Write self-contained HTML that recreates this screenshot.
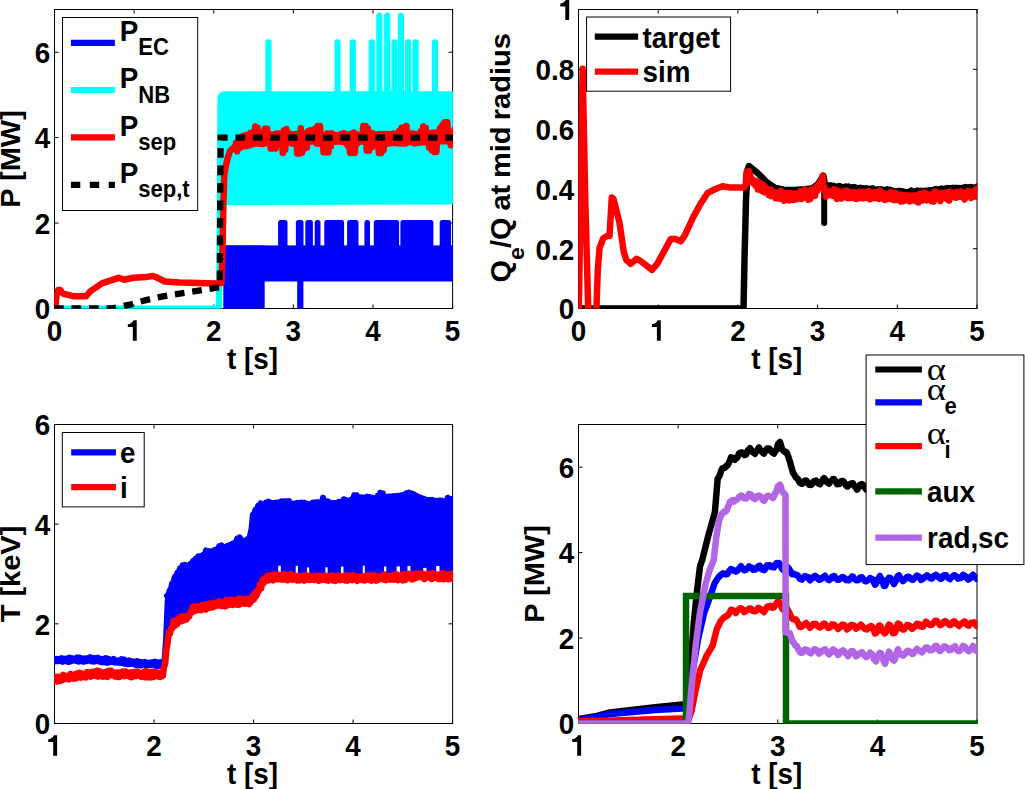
<!DOCTYPE html><html><head><meta charset="utf-8"><style>html,body{margin:0;padding:0;background:#fff;}svg{display:block}</style></head><body>
<svg width="1025" height="789" viewBox="0 0 1025 789">
<rect width="1025" height="789" fill="#fff"/>
<defs>
<clipPath id="cTL"><rect x="54.20" y="9.20" width="398.70" height="299.60"/></clipPath>
<clipPath id="cTR"><rect x="578.20" y="9.20" width="399.10" height="299.60"/></clipPath>
<clipPath id="cBL"><rect x="54.20" y="424.20" width="398.70" height="299.60"/></clipPath>
<clipPath id="cBR"><rect x="578.20" y="424.20" width="399.10" height="299.60"/></clipPath>
</defs>
<rect x="54.5" y="9.5" width="398.10" height="299.00" fill="none" stroke="#000" stroke-width="1"/>
<line x1="54.50" y1="308.5" x2="54.50" y2="304.5" stroke="#000" stroke-width="1"/>
<line x1="54.50" y1="9.5" x2="54.50" y2="13.5" stroke="#000" stroke-width="1"/>
<line x1="134.12" y1="308.5" x2="134.12" y2="304.5" stroke="#000" stroke-width="1"/>
<line x1="134.12" y1="9.5" x2="134.12" y2="13.5" stroke="#000" stroke-width="1"/>
<line x1="213.74" y1="308.5" x2="213.74" y2="304.5" stroke="#000" stroke-width="1"/>
<line x1="213.74" y1="9.5" x2="213.74" y2="13.5" stroke="#000" stroke-width="1"/>
<line x1="293.36" y1="308.5" x2="293.36" y2="304.5" stroke="#000" stroke-width="1"/>
<line x1="293.36" y1="9.5" x2="293.36" y2="13.5" stroke="#000" stroke-width="1"/>
<line x1="372.98" y1="308.5" x2="372.98" y2="304.5" stroke="#000" stroke-width="1"/>
<line x1="372.98" y1="9.5" x2="372.98" y2="13.5" stroke="#000" stroke-width="1"/>
<line x1="452.60" y1="308.5" x2="452.60" y2="304.5" stroke="#000" stroke-width="1"/>
<line x1="452.60" y1="9.5" x2="452.60" y2="13.5" stroke="#000" stroke-width="1"/>
<line x1="54.5" y1="308.50" x2="58.5" y2="308.50" stroke="#000" stroke-width="1"/>
<line x1="452.6" y1="308.50" x2="448.6" y2="308.50" stroke="#000" stroke-width="1"/>
<line x1="54.5" y1="223.07" x2="58.5" y2="223.07" stroke="#000" stroke-width="1"/>
<line x1="452.6" y1="223.07" x2="448.6" y2="223.07" stroke="#000" stroke-width="1"/>
<line x1="54.5" y1="137.64" x2="58.5" y2="137.64" stroke="#000" stroke-width="1"/>
<line x1="452.6" y1="137.64" x2="448.6" y2="137.64" stroke="#000" stroke-width="1"/>
<line x1="54.5" y1="52.21" x2="58.5" y2="52.21" stroke="#000" stroke-width="1"/>
<line x1="452.6" y1="52.21" x2="448.6" y2="52.21" stroke="#000" stroke-width="1"/>
<rect x="578.5" y="9.5" width="398.50" height="299.00" fill="none" stroke="#000" stroke-width="1"/>
<line x1="578.50" y1="308.5" x2="578.50" y2="304.5" stroke="#000" stroke-width="1"/>
<line x1="578.50" y1="9.5" x2="578.50" y2="13.5" stroke="#000" stroke-width="1"/>
<line x1="658.20" y1="308.5" x2="658.20" y2="304.5" stroke="#000" stroke-width="1"/>
<line x1="658.20" y1="9.5" x2="658.20" y2="13.5" stroke="#000" stroke-width="1"/>
<line x1="737.90" y1="308.5" x2="737.90" y2="304.5" stroke="#000" stroke-width="1"/>
<line x1="737.90" y1="9.5" x2="737.90" y2="13.5" stroke="#000" stroke-width="1"/>
<line x1="817.60" y1="308.5" x2="817.60" y2="304.5" stroke="#000" stroke-width="1"/>
<line x1="817.60" y1="9.5" x2="817.60" y2="13.5" stroke="#000" stroke-width="1"/>
<line x1="897.30" y1="308.5" x2="897.30" y2="304.5" stroke="#000" stroke-width="1"/>
<line x1="897.30" y1="9.5" x2="897.30" y2="13.5" stroke="#000" stroke-width="1"/>
<line x1="977.00" y1="308.5" x2="977.00" y2="304.5" stroke="#000" stroke-width="1"/>
<line x1="977.00" y1="9.5" x2="977.00" y2="13.5" stroke="#000" stroke-width="1"/>
<line x1="578.5" y1="308.50" x2="582.5" y2="308.50" stroke="#000" stroke-width="1"/>
<line x1="977.0" y1="308.50" x2="973.0" y2="308.50" stroke="#000" stroke-width="1"/>
<line x1="578.5" y1="248.70" x2="582.5" y2="248.70" stroke="#000" stroke-width="1"/>
<line x1="977.0" y1="248.70" x2="973.0" y2="248.70" stroke="#000" stroke-width="1"/>
<line x1="578.5" y1="188.90" x2="582.5" y2="188.90" stroke="#000" stroke-width="1"/>
<line x1="977.0" y1="188.90" x2="973.0" y2="188.90" stroke="#000" stroke-width="1"/>
<line x1="578.5" y1="129.10" x2="582.5" y2="129.10" stroke="#000" stroke-width="1"/>
<line x1="977.0" y1="129.10" x2="973.0" y2="129.10" stroke="#000" stroke-width="1"/>
<line x1="578.5" y1="69.30" x2="582.5" y2="69.30" stroke="#000" stroke-width="1"/>
<line x1="977.0" y1="69.30" x2="973.0" y2="69.30" stroke="#000" stroke-width="1"/>
<line x1="578.5" y1="9.50" x2="582.5" y2="9.50" stroke="#000" stroke-width="1"/>
<line x1="977.0" y1="9.50" x2="973.0" y2="9.50" stroke="#000" stroke-width="1"/>
<rect x="54.5" y="424.5" width="398.10" height="299.00" fill="none" stroke="#000" stroke-width="1"/>
<line x1="54.50" y1="723.5" x2="54.50" y2="719.5" stroke="#000" stroke-width="1"/>
<line x1="54.50" y1="424.5" x2="54.50" y2="428.5" stroke="#000" stroke-width="1"/>
<line x1="154.03" y1="723.5" x2="154.03" y2="719.5" stroke="#000" stroke-width="1"/>
<line x1="154.03" y1="424.5" x2="154.03" y2="428.5" stroke="#000" stroke-width="1"/>
<line x1="253.55" y1="723.5" x2="253.55" y2="719.5" stroke="#000" stroke-width="1"/>
<line x1="253.55" y1="424.5" x2="253.55" y2="428.5" stroke="#000" stroke-width="1"/>
<line x1="353.08" y1="723.5" x2="353.08" y2="719.5" stroke="#000" stroke-width="1"/>
<line x1="353.08" y1="424.5" x2="353.08" y2="428.5" stroke="#000" stroke-width="1"/>
<line x1="452.60" y1="723.5" x2="452.60" y2="719.5" stroke="#000" stroke-width="1"/>
<line x1="452.60" y1="424.5" x2="452.60" y2="428.5" stroke="#000" stroke-width="1"/>
<line x1="54.5" y1="723.50" x2="58.5" y2="723.50" stroke="#000" stroke-width="1"/>
<line x1="452.6" y1="723.50" x2="448.6" y2="723.50" stroke="#000" stroke-width="1"/>
<line x1="54.5" y1="623.83" x2="58.5" y2="623.83" stroke="#000" stroke-width="1"/>
<line x1="452.6" y1="623.83" x2="448.6" y2="623.83" stroke="#000" stroke-width="1"/>
<line x1="54.5" y1="524.17" x2="58.5" y2="524.17" stroke="#000" stroke-width="1"/>
<line x1="452.6" y1="524.17" x2="448.6" y2="524.17" stroke="#000" stroke-width="1"/>
<line x1="54.5" y1="424.50" x2="58.5" y2="424.50" stroke="#000" stroke-width="1"/>
<line x1="452.6" y1="424.50" x2="448.6" y2="424.50" stroke="#000" stroke-width="1"/>
<rect x="578.5" y="424.5" width="398.50" height="299.00" fill="none" stroke="#000" stroke-width="1"/>
<line x1="578.50" y1="723.5" x2="578.50" y2="719.5" stroke="#000" stroke-width="1"/>
<line x1="578.50" y1="424.5" x2="578.50" y2="428.5" stroke="#000" stroke-width="1"/>
<line x1="678.12" y1="723.5" x2="678.12" y2="719.5" stroke="#000" stroke-width="1"/>
<line x1="678.12" y1="424.5" x2="678.12" y2="428.5" stroke="#000" stroke-width="1"/>
<line x1="777.75" y1="723.5" x2="777.75" y2="719.5" stroke="#000" stroke-width="1"/>
<line x1="777.75" y1="424.5" x2="777.75" y2="428.5" stroke="#000" stroke-width="1"/>
<line x1="877.38" y1="723.5" x2="877.38" y2="719.5" stroke="#000" stroke-width="1"/>
<line x1="877.38" y1="424.5" x2="877.38" y2="428.5" stroke="#000" stroke-width="1"/>
<line x1="977.00" y1="723.5" x2="977.00" y2="719.5" stroke="#000" stroke-width="1"/>
<line x1="977.00" y1="424.5" x2="977.00" y2="428.5" stroke="#000" stroke-width="1"/>
<line x1="578.5" y1="723.50" x2="582.5" y2="723.50" stroke="#000" stroke-width="1"/>
<line x1="977.0" y1="723.50" x2="973.0" y2="723.50" stroke="#000" stroke-width="1"/>
<line x1="578.5" y1="638.07" x2="582.5" y2="638.07" stroke="#000" stroke-width="1"/>
<line x1="977.0" y1="638.07" x2="973.0" y2="638.07" stroke="#000" stroke-width="1"/>
<line x1="578.5" y1="552.64" x2="582.5" y2="552.64" stroke="#000" stroke-width="1"/>
<line x1="977.0" y1="552.64" x2="973.0" y2="552.64" stroke="#000" stroke-width="1"/>
<line x1="578.5" y1="467.21" x2="582.5" y2="467.21" stroke="#000" stroke-width="1"/>
<line x1="977.0" y1="467.21" x2="973.0" y2="467.21" stroke="#000" stroke-width="1"/>
<g clip-path="url(#cTL)">
<rect x="223.3" y="245.4" width="230" height="36.1" fill="#0000ff"/>
<rect x="223.3" y="245.4" width="41.4" height="64" fill="#0000ff"/>
<rect x="297.2" y="245.4" width="6.2" height="64" rx="2" fill="#0000ff"/>
<rect x="278.1" y="220.1" width="9.4" height="30" rx="2.5" fill="#0000ff"/>
<rect x="295.9" y="220.1" width="7.6" height="30" rx="2.5" fill="#0000ff"/>
<rect x="305.3" y="220.1" width="7.6" height="30" rx="2.5" fill="#0000ff"/>
<rect x="314.7" y="220.1" width="5.8" height="30" rx="2.5" fill="#0000ff"/>
<rect x="324.3" y="220.1" width="19.8" height="30" rx="2.5" fill="#0000ff"/>
<rect x="347.1" y="220.1" width="11.4" height="30" rx="2.5" fill="#0000ff"/>
<rect x="364.4" y="220.1" width="5.6" height="30" rx="2.5" fill="#0000ff"/>
<rect x="373.8" y="220.1" width="25.3" height="30" rx="2.5" fill="#0000ff"/>
<rect x="400.4" y="220.1" width="33.0" height="30" rx="2.5" fill="#0000ff"/>
<rect x="439.7" y="220.1" width="11.4" height="30" rx="2.5" fill="#0000ff"/>
<polyline points="40.0,308.5 219.0,308.5 220.5,97.0" fill="none" stroke="#00ffff" stroke-width="6" stroke-linejoin="round" stroke-linecap="round"/>
<path d="M217.8,205 L217.8,99 Q218.5,91.3 224,91.3 L455,91.3 L455,204.6 Z" fill="#00ffff"/>
<rect x="265.4" y="39.3" width="6.2" height="60" rx="3" fill="#00ffff"/>
<rect x="334.4" y="39.3" width="6.2" height="60" rx="3" fill="#00ffff"/>
<rect x="349.7" y="39.3" width="6.2" height="60" rx="3" fill="#00ffff"/>
<rect x="368.8" y="39.3" width="6.2" height="60" rx="3" fill="#00ffff"/>
<rect x="391.4" y="39.3" width="6.2" height="60" rx="3" fill="#00ffff"/>
<rect x="405.0" y="39.3" width="6.2" height="60" rx="3" fill="#00ffff"/>
<rect x="412.5" y="39.3" width="6.2" height="60" rx="3" fill="#00ffff"/>
<rect x="431.9" y="39.3" width="6.2" height="60" rx="3" fill="#00ffff"/>
<rect x="376.3" y="12.7" width="6.2" height="85" rx="3" fill="#00ffff"/>
<rect x="384.1" y="12.7" width="6.2" height="85" rx="3" fill="#00ffff"/>
<rect x="397.8" y="12.7" width="6.2" height="85" rx="3" fill="#00ffff"/>
<polyline points="55.0,312.0 56.5,295.0 58.3,289.9 60.2,289.9 63.0,293.6 74.1,296.3 86.1,296.3 89.9,291.7 101.9,283.4 118.6,277.8 124.1,279.7 133.4,277.8 146.4,276.9 152.9,276.0 157.5,277.8 164.9,281.5 179.7,282.4 216.8,283.4 221.5,283.0 222.5,250.0 223.5,200.0 224.3,175.0 226.0,165.0 228.0,157.0 230.0,151.0 235.0,146.5 237.0,146.0" fill="none" stroke="#ff0000" stroke-width="6.5" stroke-linejoin="round" stroke-linecap="round"/>
<polyline points="236.0,143.0 237.2,151.3 238.4,141.6 239.6,148.1 240.8,137.6 242.0,146.7 243.2,136.0 244.4,146.2 245.6,135.3 246.8,145.9 248.0,134.4 249.2,145.5 250.4,133.0 251.6,144.5 252.8,132.6 254.0,144.0 255.2,126.5 256.4,143.6 257.6,127.8 258.8,143.5 260.0,133.7 261.2,144.0 262.4,133.1 263.6,144.0 264.8,128.8 266.0,143.2 267.2,128.7 268.4,143.1 269.6,135.2 270.8,148.6 272.0,134.4 273.2,148.5 274.4,134.3 275.6,148.5 276.8,133.6 278.0,142.4 279.2,133.5 280.4,144.4 281.6,133.5 282.8,153.1 284.0,130.2 285.2,149.8 286.4,129.1 287.6,142.8 288.8,133.1 290.0,142.7 291.2,134.3 292.4,143.5 293.6,134.3 294.8,143.8 296.0,134.0 297.2,153.6 298.4,133.9 299.6,153.6 300.8,128.3 302.0,152.7 303.2,133.3 304.4,148.8 305.6,133.4 306.8,147.6 308.0,131.3 309.2,141.5 310.4,130.2 311.6,141.5 312.8,130.3 314.0,141.3 315.2,128.6 316.4,143.5 317.6,126.0 318.8,143.8 320.0,126.0 321.2,143.8 322.4,134.9 323.6,152.3 324.8,135.0 326.0,152.3 327.2,133.5 328.4,152.4 329.6,133.4 330.8,147.0 332.0,133.5 333.2,141.6 334.4,134.9 335.6,141.6 336.8,135.3 338.0,141.6 339.2,135.3 340.4,141.6 341.6,133.7 342.8,142.0 344.0,133.3 345.2,142.5 346.4,134.5 347.6,145.3 348.8,134.6 350.0,152.9 351.2,133.7 352.4,152.9 353.6,132.6 354.8,152.9 356.0,133.8 357.2,143.6 358.4,135.1 359.6,141.9 360.8,135.1 362.0,141.6 363.2,125.9 364.4,141.5 365.6,125.9 366.8,150.7 368.0,128.4 369.2,150.7 370.4,132.9 371.6,147.3 372.8,133.2 374.0,143.5 375.2,134.5 376.4,145.4 377.6,134.5 378.8,153.0 380.0,134.0 381.2,153.0 382.4,134.0 383.6,149.9 384.8,134.1 386.0,143.9 387.2,134.1 388.4,143.8 389.6,134.1 390.8,143.0 392.0,133.9 393.2,143.0 394.4,133.5 395.6,143.1 396.8,133.5 398.0,143.3 399.2,131.0 400.4,143.4 401.6,127.7 402.8,143.6 404.0,127.3 405.2,143.6 406.4,126.1 407.6,142.7 408.8,133.4 410.0,141.9 411.2,133.4 412.4,142.3 413.6,133.4 414.8,143.4 416.0,133.9 417.2,143.1 418.4,133.9 419.6,142.5 420.8,131.2 422.0,142.4 423.2,126.5 424.4,142.3 425.6,127.8 426.8,142.3 428.0,133.0 429.2,147.4 430.4,133.0 431.6,150.3 432.8,132.8 434.0,151.9 435.2,132.6 436.4,151.9 437.6,132.6 438.8,141.2 440.0,128.2 441.2,141.2 442.4,125.0 443.6,141.2 444.8,122.3 446.0,141.3 447.2,122.2 448.4,141.3 449.6,132.2 450.8,145.3 452.0,133.6 453.2,145.1 454.4,129.5 455.6,142.9" fill="none" stroke="#ff0000" stroke-width="6.5" stroke-linejoin="round" stroke-linecap="round"/>
<polyline points="54.0,308.5 111.0,308.5 129.7,304.7 142.7,301.0 157.5,297.3 179.7,293.6 203.8,289.9 219.8,287.3 220.2,200.0 220.6,137.6 455.0,137.6" fill="none" stroke="#000000" stroke-width="6.3" stroke-linejoin="miter" stroke-linecap="butt" stroke-dasharray="9.7 7.8"/>
</g>
<g clip-path="url(#cTR)">
<polyline points="570.0,308.5 743.5,308.5 744.5,260.0 746.0,200.0 747.5,170.0 749.0,166.0 757.6,173.0 766.3,181.8 775.1,188.0 783.9,189.7 794.4,190.0 804.1,189.3 812.0,188.5 818.0,184.0 823.4,175.7 825.0,186.0 826.0,190.0" fill="none" stroke="#000000" stroke-width="6.5" stroke-linejoin="round" stroke-linecap="round"/>
<polyline points="824.2,180.0 824.2,223.0" fill="none" stroke="#000000" stroke-width="6" stroke-linejoin="round" stroke-linecap="round"/>
<polyline points="826.0,187.6 827.5,185.6 829.0,187.9 830.5,185.8 832.0,188.5 833.5,186.3 835.0,188.7 836.5,187.0 838.0,189.2 839.5,186.3 841.0,188.0 842.5,187.4 844.0,188.5 845.5,187.0 847.0,189.7 848.5,186.9 850.0,189.6 851.5,187.7 853.0,190.3 854.5,187.3 856.0,189.4 857.5,188.4 859.0,189.8 860.5,188.2 862.0,190.7 863.5,188.7 865.0,190.4 866.5,188.7 868.0,190.9 869.5,189.1 871.0,190.7 872.5,188.6 874.0,190.9 875.5,189.9 877.0,191.0 878.5,189.6 880.0,192.1 881.5,189.6 883.0,191.9 884.5,190.4 886.0,192.7 887.5,189.7 889.0,192.4 890.5,190.3 892.0,193.5 893.5,191.2 895.0,192.8 896.5,191.7 898.0,193.4 899.5,191.2 901.0,193.5 902.5,191.6 904.0,194.4 905.5,192.4 907.0,194.5 908.5,192.3 910.0,194.5 911.5,191.0 913.0,193.8 914.5,192.0 916.0,194.1 917.5,190.9 919.0,193.7 920.5,191.3 922.0,193.3 923.5,191.2 925.0,193.3 926.5,190.9 928.0,192.2 929.5,190.7 931.0,191.7 932.5,190.4 934.0,191.6 935.5,189.4 937.0,192.2 938.5,189.7 940.0,191.1 941.5,189.0 943.0,192.3 944.5,189.2 946.0,191.8 947.5,188.5 949.0,191.3 950.5,188.4 952.0,191.3 953.5,188.2 955.0,191.1 956.5,188.1 958.0,191.1 959.5,188.3 961.0,190.3 962.5,188.1 964.0,190.5 965.5,187.5 967.0,189.9 968.5,187.7 970.0,190.4 971.5,187.3 973.0,189.8 974.5,187.9 976.0,189.5 977.5,186.8 979.0,188.8" fill="none" stroke="#000000" stroke-width="7" stroke-linejoin="round" stroke-linecap="round"/>
<polyline points="578.5,330.0 580.5,200.0 582.6,68.7 585.3,200.0 588.5,320.0" fill="none" stroke="#ff0000" stroke-width="6.5" stroke-linejoin="round" stroke-linecap="round"/>
<polyline points="596.0,330.0 596.7,300.0 597.8,270.0 599.5,248.0 603.3,238.2 607.5,235.7 609.5,236.0 611.8,197.5 613.5,199.0 619.5,222.8 623.8,251.9 626.4,260.0 630.7,263.9 636.6,258.8 640.9,261.3 652.0,269.9 657.2,263.9 670.7,239.0 675.6,239.0 680.6,241.4 684.7,235.7 693.0,217.5 701.2,202.7 707.8,192.8 714.4,189.5 722.6,186.2 730.8,187.6 744.0,187.6 745.7,185.0 746.5,172.0 749.0,171.0" fill="none" stroke="#ff0000" stroke-width="6.5" stroke-linejoin="round" stroke-linecap="round"/>
<polyline points="749.0,179.5 750.1,174.5 751.2,181.5 752.3,179.0 753.4,183.6 754.5,180.5 755.6,185.8 756.7,181.1 757.8,189.4 758.9,182.1 760.0,189.6 761.1,183.7 762.2,190.9 763.3,184.8 764.4,192.2 765.5,187.1 766.6,192.7 767.7,189.2 768.8,194.9 769.9,189.2 771.0,196.1 772.1,190.5 773.2,196.1 774.3,192.2 775.4,198.1 776.5,193.2 777.6,198.4 778.7,193.9 779.8,198.4 780.9,190.9 782.0,198.7 783.1,192.8 784.2,200.8 785.3,193.2 786.4,198.5 787.5,193.2 788.6,200.2 789.7,193.4 790.8,200.1 791.9,193.3 793.0,200.1 794.1,193.9 795.2,199.7 796.3,193.6 797.4,198.8 798.5,193.5 799.6,198.5 800.7,191.1 801.8,198.9 802.9,191.0 804.0,197.4 805.1,189.5 806.2,197.5 807.3,192.2 808.4,199.8 809.5,191.2 810.6,198.7 811.7,189.5 812.8,195.0 813.9,189.4 815.0,195.8 816.1,186.7 817.2,191.3 818.3,184.5 819.4,187.2 820.5,181.0 821.6,183.7 822.7,175.8 823.8,189.4 824.9,188.1 826.0,196.5 827.1,190.9 828.2,195.2 829.3,191.3 830.4,195.0 831.5,191.3 832.6,195.8 833.7,189.3 834.8,196.2 835.9,190.0 837.0,198.9 838.1,190.6 839.2,197.6 840.3,192.3 841.4,198.6 842.5,192.3 843.6,196.6 844.7,190.9 845.8,197.5 846.9,190.7 848.0,198.1 849.1,191.7 850.2,198.0 851.3,192.8 852.4,197.4 853.5,192.0 854.6,198.5 855.7,193.1 856.8,198.9 857.9,193.2 859.0,198.4 860.1,191.6 861.2,198.0 862.3,192.0 863.4,198.4 864.5,193.0 865.6,197.9 866.7,192.1 867.8,197.0 868.9,191.0 870.0,199.2 871.1,192.2 872.2,198.2 873.3,192.5 874.4,197.9 875.5,192.3 876.6,197.9 877.7,193.4 878.8,198.9 879.9,190.6 881.0,198.0 882.1,194.2 883.2,199.1 884.3,193.2 885.4,199.9 886.5,194.3 887.6,198.4 888.7,195.1 889.8,198.9 890.9,192.1 892.0,199.3 893.1,194.4 894.2,200.1 895.3,192.6 896.4,199.9 897.5,196.1 898.6,200.3 899.7,194.7 900.8,201.6 901.9,194.7 903.0,201.2 904.1,195.2 905.2,200.5 906.3,195.3 907.4,200.1 908.5,195.5 909.6,201.5 910.7,195.8 911.8,200.7 912.9,195.5 914.0,200.4 915.1,195.5 916.2,201.3 917.3,195.2 918.4,202.5 919.5,194.0 920.6,201.1 921.7,194.8 922.8,200.4 923.9,192.6 925.0,199.2 926.1,193.1 927.2,200.4 928.3,194.7 929.4,198.3 930.5,194.7 931.6,201.2 932.7,194.4 933.8,201.6 934.9,191.6 936.0,199.5 937.1,192.8 938.2,199.2 939.3,194.0 940.4,201.0 941.5,193.0 942.6,197.6 943.7,193.1 944.8,197.6 945.9,192.7 947.0,199.0 948.1,192.2 949.2,200.6 950.3,191.8 951.4,197.3 952.5,193.1 953.6,196.8 954.7,193.3 955.8,197.8 956.9,191.8 958.0,197.1 959.1,193.3 960.2,196.5 961.3,191.4 962.4,197.2 963.5,192.8 964.6,199.6 965.7,192.6 966.8,196.0 967.9,191.1 969.0,196.1 970.1,191.5 971.2,197.9 972.3,191.3 973.4,196.7 974.5,190.6 975.6,196.4 976.7,188.4 977.8,196.5 978.9,191.2 980.0,197.4" fill="none" stroke="#ff0000" stroke-width="6.5" stroke-linejoin="round" stroke-linecap="round"/>
</g>
<g clip-path="url(#cBL)">
<polyline points="50.0,662.0 51.3,659.0 52.6,662.1 53.9,658.9 55.2,661.2 56.5,659.1 57.8,660.8 59.1,659.3 60.4,660.7 61.7,658.3 63.0,661.6 64.3,659.0 65.6,660.7 66.9,658.8 68.2,661.8 69.5,657.8 70.8,661.3 72.1,658.5 73.4,660.3 74.7,658.8 76.0,660.5 77.3,657.6 78.6,661.4 79.9,657.8 81.2,660.8 82.5,658.7 83.8,661.6 85.1,658.5 86.4,660.8 87.7,658.5 89.0,660.4 90.3,657.5 91.6,661.1 92.9,658.0 94.2,661.4 95.5,658.3 96.8,660.7 98.1,657.9 99.4,661.5 100.7,659.4 102.0,662.0 103.3,659.1 104.6,662.0 105.9,658.3 107.2,662.7 108.5,659.1 109.8,662.1 111.1,659.9 112.4,661.7 113.7,659.2 115.0,662.4 116.3,660.6 117.6,662.3 118.9,660.6 120.2,662.6 121.5,659.4 122.8,663.0 124.1,659.7 125.4,663.7 126.7,661.2 128.0,664.0 129.3,660.7 130.6,663.8 131.9,661.4 133.2,663.5 134.5,662.1 135.8,664.9 137.1,661.3 138.4,664.9 139.7,662.1 141.0,665.3 142.3,662.5 143.6,664.0 144.9,662.2 146.2,665.5 147.5,662.9 148.8,664.8 150.1,663.0 151.4,664.8 152.7,662.3 154.0,664.6 155.3,662.0 156.6,665.8 157.9,662.7 159.2,665.8 160.5,662.3 161.8,665.7" fill="none" stroke="#0000ff" stroke-width="6.5" stroke-linejoin="round" stroke-linecap="round"/>
<path d="M161.4,664.0 L161.6,659.0 L163.1,639.0 L164.7,600.0 L165.6,598.0 L173.9,577.5 L179.5,566.5 L187.9,565.0 L199.0,555.5 L206.0,550.5 L215.7,548.5 L224.1,545.0 L232.5,541.5 L239.4,537.5 L245.0,538.5 L249.2,536.0 L251.3,527.5 L252.7,512.0 L257.6,505.0 L264.5,501.0 L282.9,501.0 L304.4,502.0 L325.9,501.0 L347.3,500.0 L364.5,496.0 L379.5,495.8 L401.0,493.0 L409.6,491.0 L422.4,496.8 L443.9,499.0 L460.0,500.0 L460.0,575.0 L265.0,575.0 L263.0,582.0 L257.0,593.0 L250.0,601.0 L239.3,601.5 L215.2,604.8 L199.3,607.8 L192.7,610.0 L186.2,619.0 L179.6,619.3 L173.0,624.3 L168.0,637.5 L166.0,655.0 L164.0,670.0 Z" fill="#0000ff"/>
<polyline points="167.0,595.8 168.3,595.3 169.6,590.6 170.9,588.9 172.2,583.3 173.5,582.5 174.8,576.8 176.1,577.2 177.4,572.5 178.7,572.1 180.0,568.3 181.3,570.2 182.6,565.4 183.9,569.7 185.2,564.8 186.5,569.2 187.8,566.2 189.1,568.0 190.4,563.7 191.7,565.7 193.0,561.1 194.3,563.5 195.6,558.9 196.9,561.3 198.2,556.3 199.5,559.1 200.8,556.0 202.1,557.3 203.4,554.6 204.7,555.4 206.0,550.4 207.3,554.2 208.6,551.1 209.9,553.7 211.2,551.3 212.5,553.2 213.8,550.3 215.1,552.6 216.4,549.3 217.7,551.7 219.0,546.4 220.3,550.6 221.6,545.4 222.9,549.5 224.2,547.1 225.5,548.4 226.8,546.1 228.1,547.3 229.4,545.1 230.7,546.2 232.0,544.0 233.3,545.0 234.6,542.7 235.9,543.5 237.2,538.6 238.5,542.0 239.8,537.4 241.1,541.8 242.4,540.6 243.7,542.3 245.0,540.7 246.3,541.7 247.6,539.2 248.9,540.2 250.2,534.8 251.5,529.3 252.8,514.8 254.1,514.0 255.4,509.8 256.7,510.3 258.0,505.9 259.3,508.0 260.6,503.2 261.9,506.5 263.2,504.7 264.5,505.0 265.8,502.6 267.1,505.0 268.4,501.6 269.7,505.0 271.0,502.6 272.3,505.0 273.6,503.1 274.9,505.0 276.2,502.7 277.5,505.0 278.8,502.5 280.1,505.0 281.4,501.4 282.7,505.0 284.0,501.4 285.3,505.1 286.6,501.1 287.9,505.2 289.2,501.2 290.5,505.4 291.8,503.6 293.1,505.5 294.4,503.7 295.7,505.6 297.0,502.9 298.3,505.7 299.6,502.9 300.9,505.8 302.2,502.7 303.5,506.0 304.8,502.7 306.1,505.9 307.4,503.7 308.7,505.8 310.0,504.5 311.3,505.7 312.6,502.7 313.9,505.6 315.2,502.3 316.5,505.4 317.8,502.2 319.1,505.3 320.4,502.1 321.7,505.2 323.0,497.6 324.3,505.1 325.6,501.1 326.9,505.0 328.2,501.4 329.5,504.8 330.8,503.0 332.1,504.7 333.4,503.3 334.7,504.6 336.0,503.2 337.3,504.5 338.6,501.9 339.9,504.3 341.2,501.7 342.5,504.2 343.8,499.2 345.1,504.1 346.4,500.0 347.7,503.9 349.0,500.9 350.3,503.3 351.6,499.4 352.9,502.7 354.2,495.1 355.5,502.1 356.8,495.2 358.1,501.5 359.4,497.4 360.7,500.9 362.0,497.3 363.3,500.3 364.6,497.5 365.9,500.0 367.2,496.7 368.5,499.9 369.8,497.1 371.1,499.9 372.4,497.7 373.7,499.9 375.0,498.1 376.3,499.8 377.6,495.9 378.9,499.8 380.2,492.8 381.5,499.5 382.8,493.3 384.1,499.2 385.4,497.1 386.7,498.9 388.0,496.7 389.3,498.5 390.6,496.6 391.9,498.2 393.2,496.2 394.5,497.8 395.8,496.1 397.1,497.5 398.4,495.8 399.7,497.2 401.0,495.5 402.3,496.7 403.6,494.9 404.9,496.1 406.2,493.5 407.5,495.5 408.8,492.7 410.1,495.2 411.4,493.3 412.7,496.4 414.0,494.4 415.3,497.6 416.6,495.9 417.9,498.8 419.2,497.2 420.5,499.9 421.8,498.2 423.1,500.9 424.4,499.0 425.7,501.1 427.0,500.1 428.3,501.4 429.6,500.2 430.9,501.7 432.2,499.9 433.5,501.9 434.8,500.6 436.1,502.2 437.4,501.0 438.7,502.5 440.0,500.4 441.3,502.7 442.6,500.8 443.9,503.0 445.2,501.2 446.5,503.2 447.8,497.7 449.1,503.3 450.4,498.8 451.7,503.5 453.0,499.0 454.3,503.6 455.6,501.0" fill="none" stroke="#0000ff" stroke-width="6" stroke-linejoin="round" stroke-linecap="round"/>
<rect x="278.2" y="565.8" width="2.6" height="12" fill="#fff"/>
<rect x="295.7" y="565.8" width="2.2" height="12" fill="#fff"/>
<rect x="307.0" y="567.4" width="2.2" height="12" fill="#fff"/>
<rect x="325.4" y="567.2" width="2.2" height="12" fill="#fff"/>
<rect x="340.9" y="566.6" width="2.6" height="12" fill="#fff"/>
<rect x="362.8" y="565.7" width="2.0" height="12" fill="#fff"/>
<rect x="384.0" y="566.5" width="2.3" height="12" fill="#fff"/>
<rect x="396.6" y="566.4" width="3.4" height="12" fill="#fff"/>
<rect x="407.5" y="566.0" width="2.9" height="12" fill="#fff"/>
<rect x="423.2" y="567.9" width="3.3" height="12" fill="#fff"/>
<rect x="436.2" y="566.0" width="3.3" height="12" fill="#fff"/>
<rect x="458.0" y="565.6" width="3.1" height="12" fill="#fff"/>
<polyline points="50.0,682.8 51.2,678.2 52.4,682.0 53.6,676.4 54.8,681.0 56.0,676.9 57.2,681.5 58.4,676.7 59.6,681.0 60.8,677.0 62.0,680.3 63.2,674.9 64.4,679.1 65.6,675.8 66.8,678.8 68.0,676.2 69.2,679.3 70.4,674.0 71.6,678.2 72.8,675.2 74.0,678.7 75.2,674.2 76.4,678.2 77.6,673.2 78.8,677.0 80.0,672.9 81.2,677.6 82.4,673.9 83.6,677.0 84.8,673.8 86.0,677.4 87.2,672.1 88.4,675.9 89.6,672.6 90.8,676.6 92.0,672.0 93.2,675.7 94.4,671.9 95.6,675.9 96.8,670.7 98.0,676.6 99.2,671.1 100.4,676.2 101.6,672.4 102.8,676.6 104.0,672.7 105.2,676.2 106.4,671.8 107.6,676.9 108.8,670.9 110.0,675.1 111.2,670.8 112.4,675.3 113.6,672.4 114.8,676.3 116.0,672.5 117.2,676.9 118.4,672.6 119.6,677.0 120.8,672.6 122.0,675.6 123.2,671.5 124.4,676.1 125.6,671.3 126.8,675.7 128.0,672.5 129.2,676.3 130.4,672.5 131.6,677.3 132.8,672.1 134.0,676.3 135.2,672.1 136.4,675.9 137.6,671.6 138.8,675.4 140.0,673.1 141.2,676.6 142.4,673.1 143.6,676.8 144.8,671.4 146.0,677.4 147.2,671.4 148.4,677.3 149.6,673.2 150.8,677.3 152.0,671.9 153.2,677.1 154.4,671.4 155.6,675.7 156.8,672.4 158.0,676.4 159.2,672.9 160.4,677.0 161.6,672.7 162.8,675.9 164.0,666.9 165.2,663.2 166.4,649.4 167.6,643.0 168.8,632.4 170.0,633.6 171.2,627.8 172.4,627.9 173.6,620.7 174.8,625.9 176.0,620.7 177.2,624.1 178.4,618.3 179.6,621.4 180.8,616.6 182.0,621.1 183.2,616.2 184.4,620.2 185.6,617.3 186.8,619.3 188.0,615.3 189.2,616.4 190.4,611.9 191.6,612.6 192.8,606.9 194.0,611.3 195.2,606.2 196.4,610.3 197.6,606.8 198.8,609.9 200.0,606.2 201.2,610.1 202.4,605.1 203.6,608.2 204.8,604.4 206.0,609.6 207.2,604.2 208.4,608.0 209.6,603.5 210.8,607.7 212.0,603.8 213.2,607.1 214.4,603.1 215.6,606.1 216.8,602.5 218.0,605.5 219.2,601.3 220.4,605.7 221.6,602.0 222.8,606.0 224.0,602.4 225.2,606.4 226.4,600.1 227.6,605.3 228.8,600.8 230.0,604.4 231.2,599.6 232.4,605.0 233.6,601.0 234.8,604.3 236.0,600.2 237.2,604.6 238.4,598.7 239.6,604.6 240.8,598.7 242.0,603.3 243.2,599.0 244.4,603.8 245.6,598.7 246.8,603.4 248.0,600.0 249.2,604.2 250.4,598.3 251.6,601.4 252.8,595.6 254.0,599.4 255.2,592.7 256.4,595.9 257.6,590.1 258.8,591.3 260.0,584.4 261.2,588.2 262.4,579.9 263.6,583.1 264.8,578.4 266.0,580.3 267.2,575.6 268.4,580.5 269.6,575.6 270.8,578.5 272.0,575.0 273.2,580.4 274.4,574.4 275.6,578.4 276.8,575.9 278.0,579.1 279.2,574.9 280.4,579.1 281.6,575.2 282.8,579.8 284.0,574.1 285.2,578.5 286.4,575.6 287.6,580.3 288.8,574.8 290.0,578.4 291.2,574.1 292.4,579.8 293.6,575.3 294.8,578.4 296.0,575.8 297.2,580.5 298.4,576.2 299.6,580.4 300.8,576.2 302.0,579.4 303.2,575.8 304.4,580.6 305.6,574.8 306.8,578.8 308.0,575.8 309.2,580.0 310.4,576.2 311.6,579.7 312.8,576.3 314.0,580.0 315.2,575.9 316.4,579.9 317.6,575.7 318.8,580.8 320.0,576.3 321.2,579.9 322.4,576.3 323.6,579.6 324.8,575.7 326.0,580.2 327.2,576.2 328.4,580.6 329.6,576.6 330.8,579.6 332.0,575.6 333.2,580.4 334.4,576.7 335.6,580.9 336.8,576.2 338.0,578.9 339.2,575.6 340.4,580.2 341.6,576.0 342.8,579.6 344.0,576.6 345.2,580.3 346.4,575.3 347.6,580.7 348.8,575.6 350.0,579.5 351.2,575.5 352.4,580.2 353.6,575.3 354.8,579.1 356.0,576.8 357.2,580.9 358.4,576.5 359.6,579.1 360.8,576.6 362.0,579.8 363.2,576.2 364.4,580.5 365.6,576.7 366.8,579.5 368.0,575.4 369.2,580.0 370.4,576.2 371.6,580.7 372.8,575.1 374.0,579.3 375.2,575.7 376.4,580.7 377.6,576.6 378.8,579.6 380.0,576.5 381.2,578.7 382.4,575.6 383.6,579.4 384.8,574.5 386.0,580.1 387.2,575.7 388.4,579.4 389.6,576.2 390.8,579.5 392.0,576.2 393.2,579.4 394.4,574.5 395.6,579.4 396.8,574.4 398.0,580.2 399.2,575.4 400.4,579.0 401.6,574.9 402.8,580.4 404.0,574.1 405.2,580.0 406.4,574.8 407.6,578.3 408.8,573.9 410.0,578.1 411.2,574.5 412.4,579.5 413.6,575.1 414.8,578.5 416.0,573.4 417.2,577.5 418.4,574.2 419.6,577.1 420.8,573.7 422.0,577.3 423.2,573.9 424.4,579.0 425.6,575.0 426.8,577.5 428.0,574.2 429.2,577.5 430.4,573.6 431.6,579.0 432.8,573.1 434.0,577.6 435.2,574.8 436.4,577.9 437.6,574.5 438.8,579.1 440.0,575.2 441.2,578.8 442.4,573.3 443.6,579.2 444.8,573.8 446.0,578.1 447.2,574.4 448.4,579.3 449.6,574.9 450.8,578.7 452.0,573.6 453.2,578.1 454.4,573.3 455.6,579.6 456.8,574.0 458.0,577.6 459.2,573.9" fill="none" stroke="#ff0000" stroke-width="6.5" stroke-linejoin="round" stroke-linecap="round"/>
</g>
<g clip-path="url(#cBR)">
<polyline points="570.0,720.0 578.7,719.0 596.9,715.9 610.1,712.4 655.0,707.3 682.5,704.6 687.5,704.0 690.7,664.5 693.8,622.7 697.0,591.4 700.0,566.3 702.2,560.0 707.9,537.2 714.9,512.1 717.7,478.6 719.0,476.9 720.0,474.7 721.0,471.3 722.0,468.9 723.0,467.9 724.0,467.9 725.0,467.7 726.0,465.9 727.0,465.9 728.0,464.5 729.0,462.3 730.0,460.6 731.0,457.3 732.0,457.6 733.0,458.3 734.0,458.9 735.0,459.7 736.0,457.6 737.0,457.7 738.0,456.1 739.0,453.3 740.0,453.2 741.0,452.4 742.0,452.5 743.0,453.2 744.0,454.9 745.0,455.0 746.0,454.6 747.0,452.3 748.0,450.3 749.0,450.1 750.0,448.2 751.0,449.8 752.0,451.1 753.0,452.4 754.0,452.9 755.0,453.8 756.0,451.5 757.0,450.5 758.0,449.1 759.0,447.5 760.0,449.4 761.0,450.7 762.0,452.0 763.0,453.0 764.0,453.5 765.0,451.4 766.0,450.1 767.0,448.4 768.0,448.6 769.0,448.4 770.0,449.5 771.0,451.0 772.0,452.4 773.0,452.9 774.0,453.6 775.0,451.1 776.0,450.8 777.0,447.6 778.0,444.2 779.0,443.0 780.0,442.0 781.0,445.4 782.0,449.0 783.0,450.4 784.0,451.3 785.0,452.0 786.0,451.7 787.0,453.3 788.0,455.8 789.0,458.9 790.0,461.8 791.0,465.8 792.0,469.0 793.0,472.8 794.0,474.2 795.0,475.7 796.0,477.7 797.0,478.2 798.0,479.0 799.0,481.4 800.0,482.9 801.0,483.3 802.0,483.8 803.0,483.1 804.0,481.3 805.0,480.6 806.0,480.4 807.0,481.6 808.0,483.0 809.0,484.7 810.0,484.2 811.0,485.0 812.0,484.2 813.0,482.4 814.0,481.3 815.0,481.5 816.0,480.6 817.0,481.9 818.0,483.1 819.0,483.8 820.0,484.2 821.0,482.2 822.0,481.1 823.0,479.2 824.0,478.1 825.0,479.2 826.0,480.2 827.0,482.2 828.0,482.8 829.0,483.7 830.0,481.8 831.0,481.2 832.0,480.3 833.0,478.9 834.0,479.1 835.0,480.9 836.0,481.9 837.0,484.2 838.0,484.0 839.0,484.1 840.0,483.4 841.0,481.5 842.0,481.0 843.0,481.0 844.0,482.0 845.0,483.6 846.0,485.3 847.0,486.5 848.0,486.4 849.0,484.8 850.0,484.1 851.0,483.4 852.0,483.5 853.0,483.3 854.0,485.4 855.0,486.9 856.0,487.4 857.0,489.5 858.0,488.4 859.0,487.1 860.0,484.9 861.0,485.4 862.0,484.1 863.0,484.9 864.0,486.6 865.0,487.4 866.0,489.4 867.0,488.3 868.0,486.6 869.0,485.8 870.0,484.1 871.0,484.1 872.0,484.5 873.0,487.0 874.0,488.3 875.0,490.0 876.0,489.9 877.0,488.2 878.0,485.3 879.0,483.3 880.0,481.2 881.0,482.3 882.0,485.6 883.0,488.3 884.0,491.4 885.0,492.0 886.0,489.5 887.0,487.7 888.0,485.0 889.0,482.5 890.0,484.5 891.0,485.5 892.0,487.9 893.0,490.8 894.0,491.3 895.0,490.3 896.0,488.1 897.0,486.3 898.0,484.6 899.0,483.7 900.0,485.7 985.0,488.0" fill="none" stroke="#000000" stroke-width="6.5" stroke-linejoin="round" stroke-linecap="round"/>
<polyline points="570.0,720.5 578.7,719.8 596.9,717.0 610.1,714.0 655.0,710.0 682.5,708.5 687.5,708.0 691.7,677.1 698.0,639.4 704.3,612.3 710.5,595.5 714.7,583.0 718.9,576.7 722.0,574.0 723.0,573.4 724.0,573.9 725.0,574.2 726.0,573.8 727.0,574.2 728.0,573.1 729.0,571.0 730.0,570.2 731.0,569.0 732.0,569.3 733.0,570.0 734.0,571.0 735.0,570.9 736.0,571.6 737.0,570.9 738.0,569.6 739.0,568.8 740.0,567.6 741.0,566.2 742.0,567.8 743.0,568.6 744.0,570.0 745.0,570.2 746.0,569.6 747.0,568.8 748.0,568.0 749.0,566.3 750.0,567.0 751.0,567.4 752.0,567.6 753.0,569.7 754.0,569.0 755.0,569.6 756.0,569.2 757.0,568.0 758.0,566.3 759.0,567.4 760.0,565.7 761.0,568.1 762.0,569.4 763.0,569.7 764.0,570.2 765.0,569.4 766.0,567.3 767.0,565.4 768.0,566.0 769.0,565.3 770.0,565.2 771.0,567.0 772.0,566.9 773.0,566.6 774.0,567.3 775.0,565.8 776.0,563.5 777.0,562.9 778.0,563.3 779.0,563.1 780.0,564.2 781.0,566.9 782.0,568.7 783.0,569.9 784.0,568.3 785.0,568.2 786.0,566.9 787.0,566.5 788.0,567.5 789.0,568.8 790.0,570.7 791.0,572.1 792.0,574.2 793.0,573.4 794.0,574.3 795.0,574.2 796.0,575.0 797.0,574.9 798.0,575.9 799.0,577.5 800.0,578.9 801.0,579.2 802.0,579.6 803.0,578.3 804.0,576.9 805.0,576.0 806.0,576.7 807.0,576.9 808.0,577.2 809.0,579.0 810.0,580.2 811.0,579.3 812.0,578.7 813.0,577.1 814.0,576.5 815.0,575.8 816.0,576.5 817.0,577.1 818.0,578.7 819.0,579.7 820.0,579.7 821.0,579.1 822.0,577.7 823.0,577.3 824.0,576.5 825.0,575.8 826.0,577.9 827.0,578.3 828.0,579.7 829.0,580.1 830.0,579.3 831.0,578.7 832.0,577.0 833.0,576.4 834.0,576.0 835.0,576.8 836.0,578.2 837.0,579.5 838.0,579.8 839.0,579.7 840.0,579.0 841.0,578.1 842.0,577.2 843.0,577.1 844.0,577.7 845.0,578.4 846.0,580.1 847.0,579.6 848.0,579.5 849.0,580.1 850.0,578.6 851.0,578.0 852.0,576.5 853.0,576.7 854.0,578.7 855.0,579.3 856.0,580.2 857.0,580.0 858.0,580.2 859.0,579.4 860.0,577.5 861.0,577.7 862.0,577.3 863.0,578.9 864.0,579.8 865.0,581.3 866.0,581.3 867.0,580.6 868.0,580.1 869.0,579.6 870.0,578.0 871.0,578.4 872.0,579.1 873.0,579.6 874.0,582.6 875.0,584.7 876.0,583.7 877.0,581.8 878.0,579.1 879.0,577.6 880.0,576.0 881.0,578.3 882.0,579.5 883.0,582.9 884.0,586.0 885.0,586.0 886.0,583.7 887.0,580.5 888.0,579.1 889.0,577.7 890.0,577.7 891.0,579.4 892.0,580.8 893.0,582.3 894.0,584.0 895.0,582.0 896.0,580.5 897.0,577.4 898.0,576.0 899.0,575.3 900.0,577.5 901.0,579.2 902.0,579.6 903.0,581.0 904.0,580.2 905.0,578.9 906.0,578.5 907.0,576.9 908.0,576.8 909.0,576.8 910.0,578.3 911.0,579.0 912.0,579.7 913.0,579.7 914.0,578.6 915.0,577.5 916.0,576.6 917.0,575.6 918.0,576.6 919.0,576.8 920.0,577.7 921.0,580.0 922.0,578.9 923.0,578.9 924.0,577.8 925.0,576.6 926.0,576.3 927.0,575.3 928.0,576.1 929.0,576.7 930.0,578.1 931.0,578.4 932.0,578.4 933.0,577.2 934.0,575.8 935.0,575.9 936.0,574.9 937.0,575.6 938.0,576.2 939.0,577.7 940.0,578.5 941.0,578.9 942.0,578.2 943.0,576.1 944.0,575.3 945.0,575.9 946.0,575.3 947.0,576.6 948.0,577.6 949.0,578.4 950.0,579.1 951.0,577.7 952.0,576.8 953.0,576.1 954.0,575.3 955.0,575.5 956.0,576.3 957.0,577.1 958.0,578.5 959.0,577.8 960.0,577.9 961.0,578.0 962.0,576.5 963.0,574.8 964.0,575.2 965.0,576.1 966.0,576.9 967.0,578.3 968.0,579.6 969.0,579.1 970.0,578.4 971.0,576.9 972.0,575.7 973.0,574.8 974.0,576.5 975.0,576.7 976.0,578.1 977.0,579.0 978.0,579.0 979.0,578.0 980.0,577.1 981.0,576.7 982.0,575.6 983.0,575.6 984.0,576.8 985.0,577.5" fill="none" stroke="#0000ff" stroke-width="6.5" stroke-linejoin="round" stroke-linecap="round"/>
<polyline points="570.0,721.8 578.7,721.5 655.0,719.3 682.5,718.5 689.0,718.5 691.7,710.5 694.9,693.8 700.0,670.8 706.4,656.2 712.6,645.7 716.8,629.0 721.0,620.6 724.0,617.4 725.0,617.1 726.0,616.3 727.0,615.7 728.0,615.1 729.0,613.4 730.0,612.1 731.0,609.7 732.0,609.8 733.0,610.3 734.0,611.7 735.0,611.3 736.0,613.0 737.0,610.7 738.0,610.2 739.0,609.7 740.0,608.3 741.0,608.2 742.0,609.0 743.0,609.7 744.0,612.1 745.0,611.7 746.0,610.9 747.0,610.2 748.0,609.6 749.0,608.6 750.0,608.4 751.0,608.4 752.0,610.1 753.0,610.9 754.0,611.0 755.0,611.2 756.0,610.8 757.0,609.6 758.0,608.0 759.0,608.0 760.0,608.9 761.0,609.1 762.0,610.3 763.0,610.2 764.0,612.1 765.0,610.0 766.0,609.1 767.0,607.0 768.0,606.3 769.0,606.4 770.0,605.9 771.0,606.9 772.0,607.7 773.0,607.3 774.0,607.4 775.0,605.4 776.0,603.9 777.0,602.7 778.0,601.2 779.0,601.8 780.0,603.4 781.0,605.9 782.0,608.2 783.0,609.5 784.0,608.4 785.0,608.1 786.0,608.1 787.0,608.6 788.0,610.3 789.0,612.2 790.0,614.2 791.0,616.2 792.0,618.5 793.0,619.1 794.0,619.4 795.0,619.6 796.0,619.5 797.0,621.0 798.0,622.9 799.0,625.1 800.0,626.9 801.0,626.8 802.0,626.3 803.0,625.6 804.0,624.7 805.0,623.8 806.0,623.0 807.0,624.2 808.0,625.0 809.0,626.4 810.0,627.7 811.0,626.2 812.0,625.9 813.0,624.2 814.0,623.9 815.0,623.9 816.0,624.0 817.0,625.6 818.0,626.3 819.0,627.0 820.0,627.4 821.0,626.7 822.0,625.9 823.0,624.1 824.0,623.5 825.0,624.0 826.0,625.7 827.0,626.2 828.0,627.7 829.0,627.9 830.0,627.3 831.0,626.6 832.0,624.4 833.0,625.3 834.0,624.6 835.0,625.5 836.0,626.3 837.0,627.2 838.0,629.0 839.0,627.3 840.0,627.4 841.0,626.2 842.0,624.7 843.0,625.0 844.0,624.9 845.0,625.9 846.0,627.5 847.0,629.4 848.0,627.5 849.0,628.1 850.0,626.7 851.0,624.9 852.0,625.1 853.0,625.2 854.0,625.7 855.0,626.9 856.0,628.7 857.0,627.7 858.0,627.8 859.0,626.8 860.0,625.7 861.0,624.6 862.0,625.8 863.0,627.1 864.0,627.9 865.0,628.9 866.0,629.2 867.0,629.4 868.0,628.4 869.0,627.3 870.0,626.9 871.0,626.0 872.0,626.6 873.0,628.2 874.0,630.5 875.0,633.5 876.0,633.0 877.0,631.6 878.0,628.6 879.0,625.7 880.0,625.5 881.0,627.4 882.0,629.1 883.0,631.2 884.0,633.1 885.0,633.4 886.0,632.0 887.0,629.8 888.0,626.7 889.0,624.6 890.0,625.1 891.0,627.4 892.0,630.5 893.0,633.1 894.0,632.4 895.0,632.7 896.0,629.5 897.0,626.0 898.0,623.6 899.0,625.2 900.0,624.7 901.0,628.2 902.0,629.0 903.0,629.5 904.0,629.5 905.0,627.9 906.0,627.2 907.0,625.0 908.0,625.2 909.0,625.4 910.0,626.0 911.0,627.8 912.0,628.8 913.0,627.9 914.0,627.5 915.0,626.2 916.0,624.7 917.0,623.8 918.0,623.9 919.0,623.9 920.0,626.3 921.0,626.4 922.0,626.8 923.0,626.6 924.0,624.5 925.0,623.4 926.0,621.7 927.0,622.4 928.0,623.7 929.0,623.9 930.0,625.0 931.0,624.7 932.0,624.8 933.0,623.3 934.0,622.4 935.0,621.0 936.0,620.8 937.0,620.9 938.0,622.8 939.0,623.4 940.0,625.2 941.0,624.6 942.0,624.4 943.0,622.6 944.0,621.7 945.0,621.1 946.0,621.7 947.0,622.5 948.0,623.3 949.0,624.6 950.0,625.1 951.0,624.6 952.0,623.4 953.0,621.9 954.0,621.3 955.0,621.9 956.0,623.2 957.0,624.3 958.0,624.8 959.0,626.0 960.0,624.5 961.0,623.8 962.0,623.2 963.0,622.7 964.0,621.6 965.0,621.6 966.0,624.1 967.0,624.8 968.0,625.3 969.0,625.6 970.0,624.0 971.0,622.8 972.0,622.7 973.0,622.9 974.0,622.4 975.0,623.0 976.0,624.9 977.0,626.2 978.0,625.8 979.0,624.8 980.0,623.9 981.0,623.3 982.0,621.7 983.0,621.8 984.0,623.2 985.0,624.6" fill="none" stroke="#ff0000" stroke-width="6.5" stroke-linejoin="round" stroke-linecap="round"/>
<polyline points="570.0,723.5 686.0,723.5 686.0,595.9 786.0,595.9 786.0,723.5 985.0,723.5" fill="none" stroke="#006400" stroke-width="6.5" stroke-linejoin="miter" stroke-linecap="butt"/>
<polyline points="570.0,723.5 687.5,723.5 688.6,721.0 691.7,685.4 695.9,643.6 700.0,612.3 705.3,585.1 709.5,570.5 713.7,560.0 716.3,537.2 719.1,520.5 720.0,518.4 721.0,515.5 722.0,513.5 723.0,512.8 724.0,511.6 725.0,512.0 726.0,510.8 727.0,510.1 728.0,506.7 729.0,504.6 730.0,501.7 731.0,501.5 732.0,500.4 733.0,500.1 734.0,501.5 735.0,500.2 736.0,500.1 737.0,499.4 738.0,498.8 739.0,497.0 740.0,496.5 741.0,495.5 742.0,496.0 743.0,497.2 744.0,498.2 745.0,498.3 746.0,498.5 747.0,497.3 748.0,495.6 749.0,493.9 750.0,494.6 751.0,494.5 752.0,496.8 753.0,498.0 754.0,497.7 755.0,499.0 756.0,498.0 757.0,496.1 758.0,496.1 759.0,495.5 760.0,496.1 761.0,496.8 762.0,498.0 763.0,500.1 764.0,500.7 765.0,499.4 766.0,497.4 767.0,496.1 768.0,495.6 769.0,495.9 770.0,496.3 771.0,496.7 772.0,497.6 773.0,498.1 774.0,496.4 775.0,493.8 776.0,491.7 777.0,489.4 778.0,486.1 779.0,485.8 780.0,484.8 781.0,486.9 782.0,491.4 783.2,492.4 785.5,495.0 785.6,632.4 789.8,633.0 792.0,639.9 793.0,642.2 794.0,642.7 795.0,645.1 796.0,646.1 797.0,646.3 798.0,648.4 799.0,650.7 800.0,652.0 801.0,652.9 802.0,652.7 803.0,651.9 804.0,650.1 805.0,649.3 806.0,649.8 807.0,649.9 808.0,651.1 809.0,652.3 810.0,652.9 811.0,653.4 812.0,651.8 813.0,650.7 814.0,649.4 815.0,649.2 816.0,650.7 817.0,650.4 818.0,652.4 819.0,653.5 820.0,652.6 821.0,652.2 822.0,650.7 823.0,650.5 824.0,649.7 825.0,649.3 826.0,650.6 827.0,651.9 828.0,653.2 829.0,654.4 830.0,653.3 831.0,652.1 832.0,650.5 833.0,649.5 834.0,650.6 835.0,650.7 836.0,652.6 837.0,653.1 838.0,654.9 839.0,654.4 840.0,652.4 841.0,651.4 842.0,651.1 843.0,650.3 844.0,651.1 845.0,653.1 846.0,653.1 847.0,654.3 848.0,656.1 849.0,654.7 850.0,653.1 851.0,651.4 852.0,652.0 853.0,651.3 854.0,652.9 855.0,654.4 856.0,656.3 857.0,655.8 858.0,654.8 859.0,653.4 860.0,653.5 861.0,652.6 862.0,652.1 863.0,653.6 864.0,654.9 865.0,656.1 866.0,657.0 867.0,656.8 868.0,655.5 869.0,655.1 870.0,652.6 871.0,653.3 872.0,654.3 873.0,655.9 874.0,659.2 875.0,659.5 876.0,661.3 877.0,657.6 878.0,655.8 879.0,653.8 880.0,652.8 881.0,653.4 882.0,656.2 883.0,659.1 884.0,661.9 885.0,663.9 886.0,660.0 887.0,657.6 888.0,655.0 889.0,651.7 890.0,653.3 891.0,654.8 892.0,657.5 893.0,660.0 894.0,660.6 895.0,658.8 896.0,655.6 897.0,652.0 898.0,649.3 899.0,651.7 900.0,652.7 901.0,654.5 902.0,655.2 903.0,655.7 904.0,654.1 905.0,653.9 906.0,652.7 907.0,651.0 908.0,650.7 909.0,651.1 910.0,651.9 911.0,652.9 912.0,653.9 913.0,653.7 914.0,652.6 915.0,651.0 916.0,650.2 917.0,648.9 918.0,649.7 919.0,650.3 920.0,651.4 921.0,651.5 922.0,652.4 923.0,651.1 924.0,650.2 925.0,648.5 926.0,647.5 927.0,647.4 928.0,648.0 929.0,649.4 930.0,650.3 931.0,650.0 932.0,650.1 933.0,649.4 934.0,647.9 935.0,646.1 936.0,645.8 937.0,646.2 938.0,648.4 939.0,650.2 940.0,651.0 941.0,650.1 942.0,649.3 943.0,648.1 944.0,646.3 945.0,646.4 946.0,647.0 947.0,647.7 948.0,648.8 949.0,650.3 950.0,649.9 951.0,649.7 952.0,648.1 953.0,647.5 954.0,647.1 955.0,646.3 956.0,648.1 957.0,649.7 958.0,650.8 959.0,651.3 960.0,650.5 961.0,649.3 962.0,647.7 963.0,645.9 964.0,646.6 965.0,646.9 966.0,648.8 967.0,649.8 968.0,650.6 969.0,651.2 970.0,649.9 971.0,649.1 972.0,647.8 973.0,646.0 974.0,647.5 975.0,648.9 976.0,650.7 977.0,651.2 978.0,650.7 979.0,650.2 980.0,649.5 981.0,647.5 982.0,647.5 983.0,647.7 984.0,649.0 985.0,650.2" fill="none" stroke="#b266e6" stroke-width="6.5" stroke-linejoin="round" stroke-linecap="round"/>
</g>
<text transform="translate(54.50,340.70) scale(0.96,1)" font-family="Liberation Sans" font-weight="bold" font-size="29" text-anchor="middle">0</text>
<path d="M136.72,340.70 L132.82,340.70 L132.82,327.10 L127.82,327.10 L127.82,324.30 Q131.52,324.00 133.62,320.30 L136.72,320.30 Z" fill="#000"/>
<text transform="translate(213.74,340.70) scale(0.96,1)" font-family="Liberation Sans" font-weight="bold" font-size="29" text-anchor="middle">2</text>
<text transform="translate(293.36,340.70) scale(0.96,1)" font-family="Liberation Sans" font-weight="bold" font-size="29" text-anchor="middle">3</text>
<text transform="translate(372.98,340.70) scale(0.96,1)" font-family="Liberation Sans" font-weight="bold" font-size="29" text-anchor="middle">4</text>
<text transform="translate(452.60,340.70) scale(0.96,1)" font-family="Liberation Sans" font-weight="bold" font-size="29" text-anchor="middle">5</text>
<text transform="translate(50.20,319.30) scale(0.96,1)" font-family="Liberation Sans" font-weight="bold" font-size="29" text-anchor="end">0</text>
<text transform="translate(50.20,233.87) scale(0.96,1)" font-family="Liberation Sans" font-weight="bold" font-size="29" text-anchor="end">2</text>
<text transform="translate(50.20,148.44) scale(0.96,1)" font-family="Liberation Sans" font-weight="bold" font-size="29" text-anchor="end">4</text>
<text transform="translate(50.20,63.01) scale(0.96,1)" font-family="Liberation Sans" font-weight="bold" font-size="29" text-anchor="end">6</text>
<text transform="translate(578.50,340.70) scale(0.96,1)" font-family="Liberation Sans" font-weight="bold" font-size="29" text-anchor="middle">0</text>
<path d="M660.80,340.70 L656.90,340.70 L656.90,327.10 L651.90,327.10 L651.90,324.30 Q655.60,324.00 657.70,320.30 L660.80,320.30 Z" fill="#000"/>
<text transform="translate(737.90,340.70) scale(0.96,1)" font-family="Liberation Sans" font-weight="bold" font-size="29" text-anchor="middle">2</text>
<text transform="translate(817.60,340.70) scale(0.96,1)" font-family="Liberation Sans" font-weight="bold" font-size="29" text-anchor="middle">3</text>
<text transform="translate(897.30,340.70) scale(0.96,1)" font-family="Liberation Sans" font-weight="bold" font-size="29" text-anchor="middle">4</text>
<text transform="translate(977.00,340.70) scale(0.96,1)" font-family="Liberation Sans" font-weight="bold" font-size="29" text-anchor="middle">5</text>
<text transform="translate(574.20,319.30) scale(0.96,1)" font-family="Liberation Sans" font-weight="bold" font-size="29" text-anchor="end">0</text>
<text transform="translate(574.20,259.50) scale(0.96,1)" font-family="Liberation Sans" font-weight="bold" font-size="29" text-anchor="end">0.2</text>
<text transform="translate(574.20,199.70) scale(0.96,1)" font-family="Liberation Sans" font-weight="bold" font-size="29" text-anchor="end">0.4</text>
<text transform="translate(574.20,139.90) scale(0.96,1)" font-family="Liberation Sans" font-weight="bold" font-size="29" text-anchor="end">0.6</text>
<text transform="translate(574.20,80.10) scale(0.96,1)" font-family="Liberation Sans" font-weight="bold" font-size="29" text-anchor="end">0.8</text>
<path d="M569.20,20.00 L565.30,20.00 L565.30,6.40 L560.30,6.40 L560.30,3.60 Q564.00,3.30 566.10,-0.40 L569.20,-0.40 Z" fill="#000"/>
<path d="M57.10,755.70 L53.20,755.70 L53.20,742.10 L48.20,742.10 L48.20,739.30 Q51.90,739.00 54.00,735.30 L57.10,735.30 Z" fill="#000"/>
<text transform="translate(154.03,755.70) scale(0.96,1)" font-family="Liberation Sans" font-weight="bold" font-size="29" text-anchor="middle">2</text>
<text transform="translate(253.55,755.70) scale(0.96,1)" font-family="Liberation Sans" font-weight="bold" font-size="29" text-anchor="middle">3</text>
<text transform="translate(353.08,755.70) scale(0.96,1)" font-family="Liberation Sans" font-weight="bold" font-size="29" text-anchor="middle">4</text>
<text transform="translate(452.60,755.70) scale(0.96,1)" font-family="Liberation Sans" font-weight="bold" font-size="29" text-anchor="middle">5</text>
<text transform="translate(50.20,734.30) scale(0.96,1)" font-family="Liberation Sans" font-weight="bold" font-size="29" text-anchor="end">0</text>
<text transform="translate(50.20,634.63) scale(0.96,1)" font-family="Liberation Sans" font-weight="bold" font-size="29" text-anchor="end">2</text>
<text transform="translate(50.20,534.97) scale(0.96,1)" font-family="Liberation Sans" font-weight="bold" font-size="29" text-anchor="end">4</text>
<text transform="translate(50.20,435.30) scale(0.96,1)" font-family="Liberation Sans" font-weight="bold" font-size="29" text-anchor="end">6</text>
<path d="M581.10,755.70 L577.20,755.70 L577.20,742.10 L572.20,742.10 L572.20,739.30 Q575.90,739.00 578.00,735.30 L581.10,735.30 Z" fill="#000"/>
<text transform="translate(678.12,755.70) scale(0.96,1)" font-family="Liberation Sans" font-weight="bold" font-size="29" text-anchor="middle">2</text>
<text transform="translate(777.75,755.70) scale(0.96,1)" font-family="Liberation Sans" font-weight="bold" font-size="29" text-anchor="middle">3</text>
<text transform="translate(877.38,755.70) scale(0.96,1)" font-family="Liberation Sans" font-weight="bold" font-size="29" text-anchor="middle">4</text>
<text transform="translate(977.00,755.70) scale(0.96,1)" font-family="Liberation Sans" font-weight="bold" font-size="29" text-anchor="middle">5</text>
<text transform="translate(574.20,734.30) scale(0.96,1)" font-family="Liberation Sans" font-weight="bold" font-size="29" text-anchor="end">0</text>
<text transform="translate(574.20,648.87) scale(0.96,1)" font-family="Liberation Sans" font-weight="bold" font-size="29" text-anchor="end">2</text>
<text transform="translate(574.20,563.44) scale(0.96,1)" font-family="Liberation Sans" font-weight="bold" font-size="29" text-anchor="end">4</text>
<text transform="translate(574.20,478.01) scale(0.96,1)" font-family="Liberation Sans" font-weight="bold" font-size="29" text-anchor="end">6</text>
<text transform="translate(252.55,368.50) scale(0.96,1)" font-family="Liberation Sans" font-weight="bold" font-size="29" text-anchor="middle">t [s]</text>
<text transform="translate(776.75,368.50) scale(0.96,1)" font-family="Liberation Sans" font-weight="bold" font-size="29" text-anchor="middle">t [s]</text>
<text transform="translate(252.55,783.50) scale(0.96,1)" font-family="Liberation Sans" font-weight="bold" font-size="29" text-anchor="middle">t [s]</text>
<text transform="translate(776.75,783.50) scale(0.96,1)" font-family="Liberation Sans" font-weight="bold" font-size="29" text-anchor="middle">t [s]</text>
<text transform="translate(20.40,159.00) scale(0.96,1) rotate(-90)" font-family="Liberation Sans" font-weight="bold" font-size="29" text-anchor="middle">P [MW]</text>
<text transform="translate(20.40,574.00) scale(0.96,1) rotate(-90)" font-family="Liberation Sans" font-weight="bold" font-size="29" text-anchor="middle">T [keV]</text>
<text transform="translate(509.70,282.50) scale(0.96,1) rotate(-90)" font-family="Liberation Sans" font-weight="bold" font-size="29" text-anchor="start">Q</text>
<text transform="translate(523.70,260.10) scale(0.96,1) rotate(-90)" font-family="Liberation Sans" font-weight="bold" font-size="23" text-anchor="start">e</text>
<text transform="translate(509.70,248.10) scale(0.96,1) rotate(-90)" font-family="Liberation Sans" font-weight="bold" font-size="29" text-anchor="start">/Q</text>
<text transform="translate(509.70,210.55) scale(0.96,1) rotate(-90)" font-family="Liberation Sans" font-weight="bold" font-size="29" text-anchor="start">at</text>
<text transform="translate(509.70,178.00) scale(0.96,1) rotate(-90)" font-family="Liberation Sans" font-weight="bold" font-size="29" text-anchor="start">mid</text>
<text transform="translate(509.70,120.20) scale(0.96,1) rotate(-90)" font-family="Liberation Sans" font-weight="bold" font-size="29" text-anchor="start">radius</text>
<text transform="translate(544.40,574.00) scale(0.96,1) rotate(-90)" font-family="Liberation Sans" font-weight="bold" font-size="29" text-anchor="middle">P [MW]</text>
<rect x="62.5" y="17.5" width="135.2" height="193.0" fill="#fff" stroke="#000" stroke-width="1"/>
<line x1="70.9" y1="42.85" x2="114.9" y2="42.85" stroke="#0000ff" stroke-width="6.2"/>
<line x1="70.9" y1="90.0" x2="114.9" y2="90.0" stroke="#00ffff" stroke-width="6.2"/>
<line x1="70.9" y1="137.3" x2="114.9" y2="137.3" stroke="#ff0000" stroke-width="6.2"/>
<line x1="70.9" y1="184.9" x2="114.9" y2="184.9" stroke="#000000" stroke-width="6.2" stroke-dasharray="9.4 9.5"/>
<text transform="translate(119.70,40.90) scale(0.96,1)" font-family="Liberation Sans" font-weight="bold" font-size="29" text-anchor="start">P</text>
<text transform="translate(138.20,55.40) scale(0.96,1)" font-family="Liberation Sans" font-weight="bold" font-size="23" text-anchor="start">EC</text>
<text transform="translate(119.70,88.20) scale(0.96,1)" font-family="Liberation Sans" font-weight="bold" font-size="29" text-anchor="start">P</text>
<text transform="translate(138.20,102.70) scale(0.96,1)" font-family="Liberation Sans" font-weight="bold" font-size="23" text-anchor="start">NB</text>
<text transform="translate(119.70,135.70) scale(0.96,1)" font-family="Liberation Sans" font-weight="bold" font-size="29" text-anchor="start">P</text>
<text transform="translate(138.20,150.20) scale(0.96,1)" font-family="Liberation Sans" font-weight="bold" font-size="23" text-anchor="start">sep</text>
<text transform="translate(119.70,182.80) scale(0.96,1)" font-family="Liberation Sans" font-weight="bold" font-size="29" text-anchor="start">P</text>
<text transform="translate(138.20,197.30) scale(0.96,1)" font-family="Liberation Sans" font-weight="bold" font-size="23" text-anchor="start">sep,t</text>
<rect x="586.6" y="17.0" width="144.0" height="74.2" fill="#fff" stroke="#000" stroke-width="1"/>
<line x1="594.8" y1="36.6" x2="638.1" y2="36.6" stroke="#000000" stroke-width="6.2"/>
<line x1="594.8" y1="71.6" x2="638.1" y2="71.6" stroke="#ff0000" stroke-width="6.2"/>
<text transform="translate(642.60,47.50) scale(0.96,1)" font-family="Liberation Sans" font-weight="bold" font-size="29" text-anchor="start">target</text>
<text transform="translate(642.50,82.10) scale(0.96,1)" font-family="Liberation Sans" font-weight="bold" font-size="29" text-anchor="start">sim</text>
<rect x="62.3" y="432.5" width="81.9" height="74.4" fill="#fff" stroke="#000" stroke-width="1"/>
<line x1="71.2" y1="452.3" x2="115.9" y2="452.3" stroke="#0000ff" stroke-width="6.2"/>
<line x1="71.2" y1="487.2" x2="115.9" y2="487.2" stroke="#ff0000" stroke-width="6.2"/>
<text transform="translate(120.00,463.00) scale(0.96,1)" font-family="Liberation Sans" font-weight="bold" font-size="29" text-anchor="start">e</text>
<text transform="translate(120.00,497.70) scale(0.96,1)" font-family="Liberation Sans" font-weight="bold" font-size="29" text-anchor="start">i</text>
<rect x="866.1" y="355.0" width="157.8" height="209.6" fill="#fff" stroke="#000" stroke-width="1"/>
<line x1="875.3" y1="369.5" x2="921.9" y2="369.5" stroke="#000000" stroke-width="6.2"/>
<line x1="875.3" y1="402.4" x2="921.9" y2="402.4" stroke="#0000ff" stroke-width="6.2"/>
<line x1="875.3" y1="446.2" x2="921.9" y2="446.2" stroke="#ff0000" stroke-width="6.2"/>
<line x1="875.3" y1="491.3" x2="921.9" y2="491.3" stroke="#006400" stroke-width="6.2"/>
<line x1="875.3" y1="537.6" x2="921.9" y2="537.6" stroke="#b266e6" stroke-width="6.2"/>
<text transform="translate(926.70,380.00) scale(1.16,1)" font-family="Liberation Serif" font-weight="normal" font-size="31.5" text-anchor="start">&#945;</text>
<text transform="translate(926.70,400.00) scale(1.16,1)" font-family="Liberation Serif" font-weight="normal" font-size="31.5" text-anchor="start">&#945;</text>
<text transform="translate(944.40,414.10) scale(0.96,1)" font-family="Liberation Sans" font-weight="bold" font-size="23" text-anchor="start">e</text>
<text transform="translate(926.70,444.00) scale(1.16,1)" font-family="Liberation Serif" font-weight="normal" font-size="31.5" text-anchor="start">&#945;</text>
<text transform="translate(944.50,457.50) scale(0.96,1)" font-family="Liberation Sans" font-weight="bold" font-size="23" text-anchor="start">i</text>
<text transform="translate(927.00,501.60) scale(0.96,1)" font-family="Liberation Sans" font-weight="bold" font-size="29" text-anchor="start">aux</text>
<text transform="translate(927.10,548.10) scale(0.96,1)" font-family="Liberation Sans" font-weight="bold" font-size="29" text-anchor="start">rad,sc</text>
</svg></body></html>
